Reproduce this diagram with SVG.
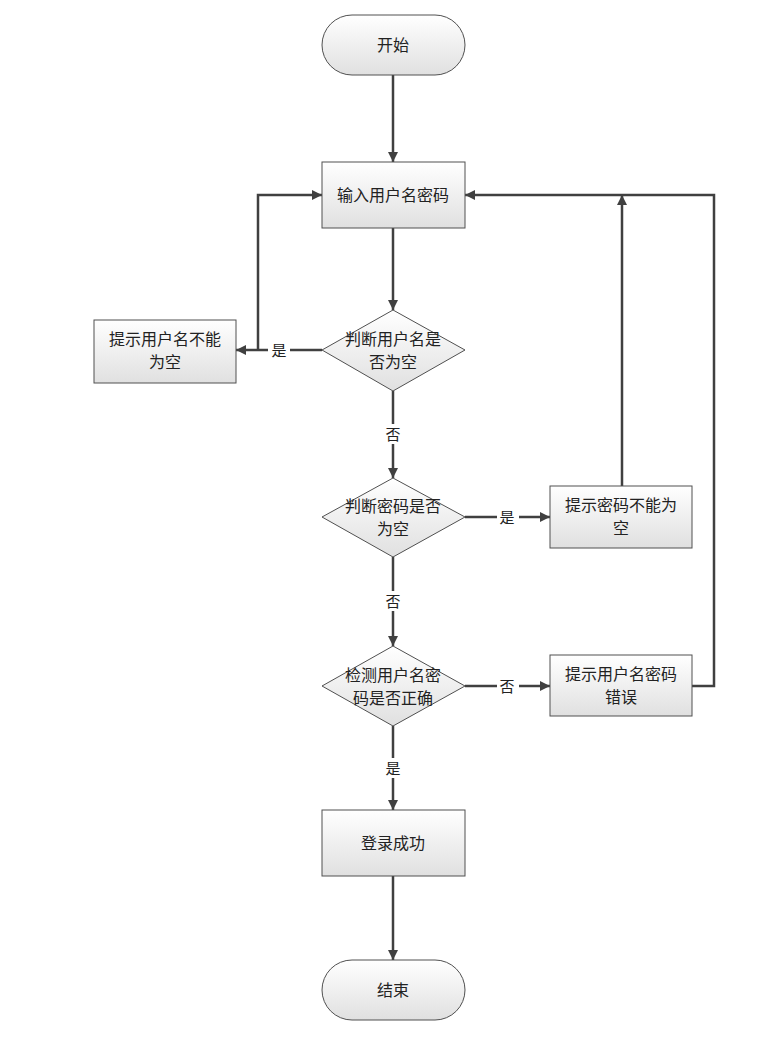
<svg xmlns="http://www.w3.org/2000/svg" width="772" height="1038" viewBox="0 0 772 1038">
<defs>
<linearGradient id="g" x1="0" y1="0" x2="0" y2="1"><stop offset="0" stop-color="#ffffff"/><stop offset="1" stop-color="#e0e0e0"/></linearGradient>
<marker id="a" viewBox="0 0 10 10" refX="10" refY="5" markerWidth="10" markerHeight="10" markerUnits="userSpaceOnUse" orient="auto"><path d="M0,0L10,5L0,10z" fill="#404040"/></marker>
<style>
.n{fill:url(#g);stroke:#505050;stroke-width:1}
.t{font-family:"Liberation Serif","Noto Sans CJK SC",serif;font-size:16px;fill:#222;text-anchor:middle}
.c{fill:none;stroke:#404040;stroke-width:2.5;marker-end:url(#a)}
.l{fill:none;stroke:#404040;stroke-width:2.5}
.lb{font-family:"Liberation Serif","Noto Sans CJK SC",serif;font-size:15px;fill:#222;text-anchor:middle}
</style>
</defs>
<rect width="772" height="1038" fill="#fff"/>
<g id="connectors">
<path class="c" d="M393,75V162"/>
<path class="c" d="M393,228V310"/>
<path class="c" d="M322,350H236"/>
<path class="c" d="M258,350V195H322"/>
<path class="c" d="M393,391V478"/>
<path class="c" d="M465,517H550"/>
<path class="c" d="M622,486V195"/>
<path class="c" d="M692,686H714V195H465"/>
<path class="c" d="M393,557V646"/>
<path class="c" d="M465,686H550"/>
<path class="c" d="M393,726V810"/>
<path class="c" d="M393,876V960"/>
<rect x="268" y="340" width="22" height="20" fill="#fff"/><text class="lb" x="279" y="356">是</text>
<rect x="383" y="424" width="20" height="20" fill="#fff"/><text class="lb" x="393" y="440">否</text>
<rect x="497" y="507" width="22" height="20" fill="#fff"/><text class="lb" x="507" y="523">是</text>
<rect x="383" y="591" width="20" height="20" fill="#fff"/><text class="lb" x="393" y="607">否</text>
<rect x="497" y="676" width="22" height="20" fill="#fff"/><text class="lb" x="507" y="692">否</text>
<rect x="383" y="758" width="20" height="20" fill="#fff"/><text class="lb" x="393" y="774">是</text>
</g>
<g id="start"><rect class="n" x="322" y="15" width="143" height="60" rx="30"/><text class="t" x="393" y="51">开始</text></g>
<g id="input"><rect class="n" x="322" y="162" width="143" height="66"/><text class="t" x="393" y="201">输入用户名密码</text></g>
<g id="d1"><path class="n" d="M393,310L465,350L393,391L322,350z"/><text class="t" x="393" y="345">判断用户名是</text><text class="t" x="393" y="368">否为空</text></g>
<g id="b1"><rect class="n" x="94" y="320" width="142" height="63"/><text class="t" x="165" y="345">提示用户名不能</text><text class="t" x="165" y="368">为空</text></g>
<g id="d2"><path class="n" d="M393,478L465,517L393,557L322,517z"/><text class="t" x="393" y="512">判断密码是否</text><text class="t" x="393" y="535">为空</text></g>
<g id="b2"><rect class="n" x="550" y="486" width="142" height="62"/><text class="t" x="621" y="511">提示密码不能为</text><text class="t" x="621" y="534">空</text></g>
<g id="d3"><path class="n" d="M393,646L465,686L393,726L322,686z"/><text class="t" x="393" y="681">检测用户名密</text><text class="t" x="393" y="704">码是否正确</text></g>
<g id="b3"><rect class="n" x="550" y="655" width="142" height="61"/><text class="t" x="621" y="680">提示用户名密码</text><text class="t" x="621" y="703">错误</text></g>
<g id="ok"><rect class="n" x="322" y="810" width="143" height="66"/><text class="t" x="393" y="849">登录成功</text></g>
<g id="end"><rect class="n" x="322" y="960" width="143" height="60" rx="30"/><text class="t" x="393" y="996">结束</text></g>
</svg>
